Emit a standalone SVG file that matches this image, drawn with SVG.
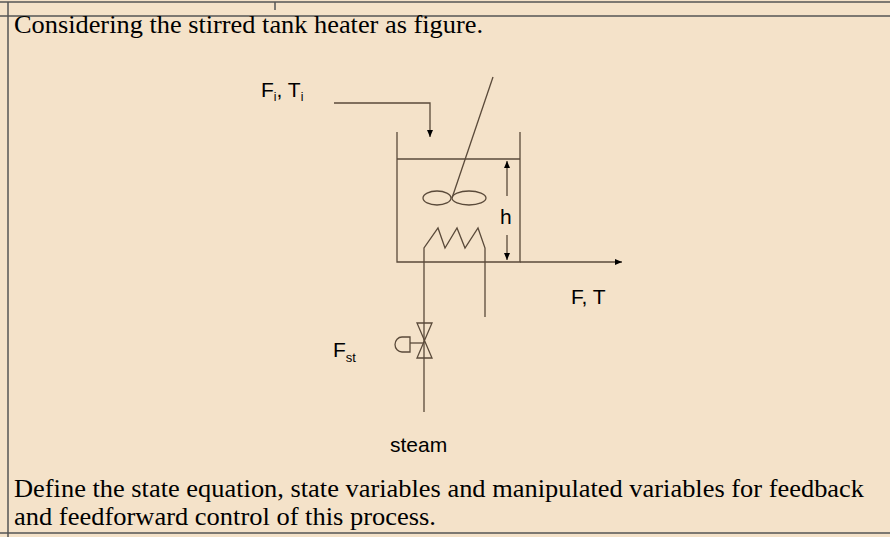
<svg xmlns="http://www.w3.org/2000/svg" width="890" height="537" viewBox="0 0 890 537">
<defs>
<marker id="ah" markerWidth="8" markerHeight="8" refX="7" refY="4" orient="auto" markerUnits="userSpaceOnUse"><path d="M0,1 L7,4 L0,7 Z" fill="#000"/></marker>
<style>
.l{stroke:#5a4a3a;stroke-width:1.3;fill:none}
.s{font-family:"Liberation Serif",serif;font-size:26px;fill:#000}
.h{font-family:"Liberation Sans",Arial,sans-serif;font-size:21px;fill:#000}
.b{stroke:#555;stroke-width:1.5;fill:none}
</style>
</defs>
<rect width="890" height="537" fill="#f4e2c9"/>
<g id="frame">
<line class="b" x1="0" y1="2" x2="890" y2="2"/>
<line class="b" x1="0" y1="16" x2="890" y2="16"/>
<line class="b" x1="8" y1="2" x2="8" y2="537"/>
<line class="b" x1="275" y1="2" x2="275" y2="10"/>
<line class="b" x1="0" y1="533" x2="890" y2="533"/>
</g>
<text class="s" x="14" y="33" textLength="469" lengthAdjust="spacingAndGlyphs">Considering the stirred tank heater as figure.</text>
<text class="s" x="14" y="497" textLength="850" lengthAdjust="spacingAndGlyphs">Define the state equation, state variables and manipulated variables for feedback</text>
<text class="s" x="14" y="525" textLength="422" lengthAdjust="spacingAndGlyphs">and feedforward control of this process.</text>
<g id="tank">
<polyline class="l" points="397,132 397,262 520,262 520,132"/>
<line class="l" x1="397" y1="159" x2="520" y2="159"/>
</g>
<g id="stirrer">
<line class="l" x1="493" y1="77" x2="452" y2="198"/>
<ellipse class="l" cx="437" cy="198" rx="14" ry="7"/>
<ellipse class="l" cx="469" cy="198" rx="17" ry="7"/>
</g>
<g id="coil">
<polyline class="l" points="424,412 424,248 438,228 445,248 457,228 465,248 478,228 485,248 485,317"/>
</g>
<g id="valve">
<path class="l" d="M417,323 L432,323 L417,358 L432,358 Z"/>
<line class="l" x1="410" y1="343" x2="424" y2="343"/>
<path class="l" d="M410,337 L402,337 A7,7.5 0 0 0 402,352 L410,352 Z"/>
</g>
<g id="connectors">
<polyline class="l" points="334,103 430,103 430,137" marker-end="url(#ah)"/>
<line class="l" x1="507" y1="196" x2="507" y2="161" marker-end="url(#ah)"/>
<line class="l" x1="507" y1="235" x2="507" y2="260" marker-end="url(#ah)"/>
<line class="l" x1="520" y1="262" x2="622" y2="262" marker-end="url(#ah)"/>
</g>
<g id="labels">
<text class="h" x="261" y="97">F<tspan font-size="12" dy="4">i</tspan><tspan dy="-4">, T</tspan><tspan font-size="12" dy="4">i</tspan></text>
<text class="h" x="500" y="224">h</text>
<text class="h" x="571" y="304">F, T</text>
<text class="h" x="333" y="357">F<tspan font-size="13" dy="5">st</tspan></text>
<text class="h" x="390" y="452">steam</text>
</g>
</svg>
